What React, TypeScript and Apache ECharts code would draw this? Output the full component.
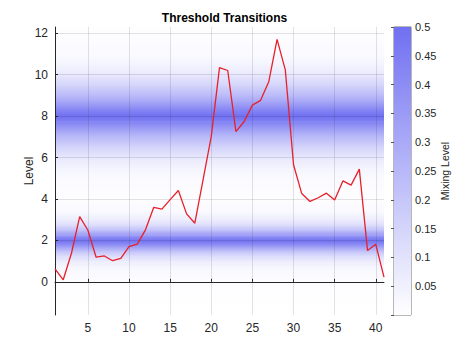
import React, { useEffect, useRef } from "react";
import * as echarts from "echarts";

// Observed signal level at each step
const levels = [
  0.63, 0.1, 1.38, 3.15, 2.49, 1.19, 1.25, 1.02, 1.13, 1.7, 1.82, 2.51, 3.59, 3.51,
  3.97, 4.41, 3.28, 2.83, 4.92, 7.02, 10.34, 10.2, 7.25, 7.74, 8.53, 8.76, 9.67,
  11.7, 10.23, 5.65, 4.26, 3.88, 4.06, 4.28, 3.95, 4.87, 4.67, 5.44, 1.51, 1.81, 0.23,
];
const steps = levels.map((_, i) => i + 1);

// Background mixing level as a function of Level
const mixY = [
  -1.6, 0, 0.5, 0.75, 1, 1.25, 1.5, 1.75, 2, 2.25, 2.5, 2.75, 3, 3.25, 3.5, 4, 4.5, 5,
  5.5, 6, 6.5, 7, 7.25, 7.5, 7.75, 8, 8.25, 8.5, 8.75, 9, 9.5, 10, 10.5, 11, 11.5, 12.3,
];
const mixLevel = [
  0, 0.006, 0.02, 0.035, 0.065, 0.12, 0.22, 0.36, 0.5, 0.36, 0.22, 0.12, 0.065, 0.035,
  0.018, 0.007, 0.009, 0.018, 0.04, 0.08, 0.15, 0.24, 0.3, 0.37, 0.44, 0.5, 0.44, 0.37,
  0.3, 0.24, 0.15, 0.08, 0.04, 0.018, 0.009, 0.003,
];

const xTicks = [5, 10, 15, 20, 25, 30, 35, 40];
const yTicks = [0, 2, 4, 6, 8, 10, 12];
const X_MIN = 1;
const X_MAX = 41;
const Y_MIN = -1.6;
const Y_MAX = 12.3;
const CB_MIN = 0;
const CB_MAX = 0.5;

const FONT = "'Liberation Sans', Arial, sans-serif";
const TXT = "#262626";
const GRID = "rgba(40,40,40,0.13)";

const LOW = [255, 255, 255];
const HIGH = [112, 112, 242];
function mixColor(v: number) {
  const t = Math.max(0, Math.min(1, (v - CB_MIN) / (CB_MAX - CB_MIN)));
  const c = LOW.map((l, k) => Math.round(l + (HIGH[k] - l) * t));
  return `rgb(${c[0]},${c[1]},${c[2]})`;
}

export default function App() {
  const ref = useRef<HTMLDivElement>(null);
  useEffect(() => {
    if (!ref.current) return;
    const chart = echarts.init(ref.current, undefined, { renderer: "svg" });
    const bgData = mixY.slice(0, -1).map((y, i) => [y, mixY[i + 1], mixLevel[i], mixLevel[i + 1]]);
    const lineData = steps.map((s, i) => [s, levels[i]]);

    chart.setOption({
      animation: false,
      backgroundColor: "#ffffff",
      title: {
        text: "Threshold Transitions",
        left: 219.5,
        top: 7,
        textAlign: "center",
        textStyle: { fontFamily: FONT, fontSize: 12, fontWeight: "bold", color: "#000" },
      },
      grid: [
        { left: 55, top: 27, width: 329, height: 288, containLabel: false },
        {
          left: 394,
          top: 27,
          width: 17,
          height: 288,
          show: true,
          borderColor: "#707070",
          borderWidth: 1,
          backgroundColor: "transparent",
        },
      ],
      xAxis: [
        {
          type: "value",
          gridIndex: 0,
          min: X_MIN,
          max: X_MAX,
          z: 3,
          axisLine: { show: true, lineStyle: { color: TXT, width: 1 } },
          axisTick: { show: true, inside: true, length: 3, customValues: xTicks, lineStyle: { color: TXT } },
          axisLabel: { customValues: xTicks, color: TXT, fontFamily: FONT, fontSize: 12, margin: 7 },
          splitLine: { show: true, lineStyle: { color: GRID, width: 1 } },
        },
        { type: "value", gridIndex: 1, min: 0, max: 1, show: false },
      ],
      yAxis: [
        {
          type: "value",
          gridIndex: 0,
          min: Y_MIN,
          max: Y_MAX,
          z: 3,
          name: "Level",
          nameLocation: "middle",
          nameRotate: 90,
          nameGap: 20,
          nameMoveOverlap: false,
          nameTextStyle: { color: TXT, fontFamily: FONT, fontSize: 12 },
          axisLine: { show: true, lineStyle: { color: TXT, width: 1 } },
          axisTick: { show: true, inside: true, length: 3, customValues: yTicks, lineStyle: { color: TXT } },
          axisLabel: { customValues: yTicks, color: TXT, fontFamily: FONT, fontSize: 12, margin: 7 },
          splitLine: { show: true, lineStyle: { color: GRID, width: 1 } },
        },
        {
          type: "value",
          gridIndex: 1,
          position: "right",
          min: CB_MIN,
          max: CB_MAX,
          interval: 0.05,
          name: "Mixing Level",
          nameLocation: "middle",
          nameRotate: 90,
          nameGap: 28,
          nameMoveOverlap: false,
          nameTextStyle: { color: TXT, fontFamily: FONT, fontSize: 10.5 },
          axisLine: { show: false },
          axisTick: { show: true, inside: true, length: 3, lineStyle: { color: "#555" } },
          axisLabel: {
            color: TXT,
            fontFamily: FONT,
            fontSize: 11,
            margin: 4,
            formatter: (v: number) => (Math.abs(v) < 1e-9 ? "" : String(+v.toFixed(2))),
          },
          splitLine: { show: false },
        },
      ],
      series: [
        {
          type: "custom",
          name: "mixing",
          xAxisIndex: 0,
          yAxisIndex: 0,
          silent: true,
          clip: true,
          z: 1,
          data: bgData,
          renderItem: (_p: any, api: any) => {
            const y0 = api.value(0);
            const y1 = api.value(1);
            const v0 = api.value(2);
            const v1 = api.value(3);
            const a = api.coord([X_MIN, y1]);
            const b = api.coord([X_MAX, y0]);
            return {
              type: "rect",
              shape: { x: a[0], y: a[1], width: b[0] - a[0], height: b[1] - a[1] + 0.6 },
              style: {
                fill: new echarts.graphic.LinearGradient(0, 0, 0, 1, [
                  { offset: 0, color: mixColor(v1) },
                  { offset: 1, color: mixColor(v0) },
                ]),
                stroke: null,
              },
            };
          },
        },
        {
          type: "custom",
          name: "colorbar",
          xAxisIndex: 1,
          yAxisIndex: 1,
          silent: true,
          z: 1,
          data: [[CB_MIN, CB_MAX]],
          renderItem: (_p: any, api: any) => {
            const a = api.coord([0, api.value(1)]);
            const b = api.coord([1, api.value(0)]);
            return {
              type: "rect",
              shape: { x: a[0], y: a[1], width: b[0] - a[0], height: b[1] - a[1] },
              style: {
                fill: new echarts.graphic.LinearGradient(0, 0, 0, 1, [
                  { offset: 0, color: mixColor(CB_MAX) },
                  { offset: 1, color: mixColor(CB_MIN) },
                ]),
                stroke: null,
              },
            };
          },
        },
        {
          type: "line",
          name: "Level",
          xAxisIndex: 0,
          yAxisIndex: 0,
          z: 5,
          data: lineData,
          showSymbol: false,
          symbol: "none",
          lineStyle: { color: "#e8202a", width: 1.3 },
        },
      ],
    });
    return () => chart.dispose();
  }, []);
  return (
    <div
      ref={ref}
      style={{ position: "fixed", left: 0, top: 0, width: 474, height: 355 }}
    />
  );
}
